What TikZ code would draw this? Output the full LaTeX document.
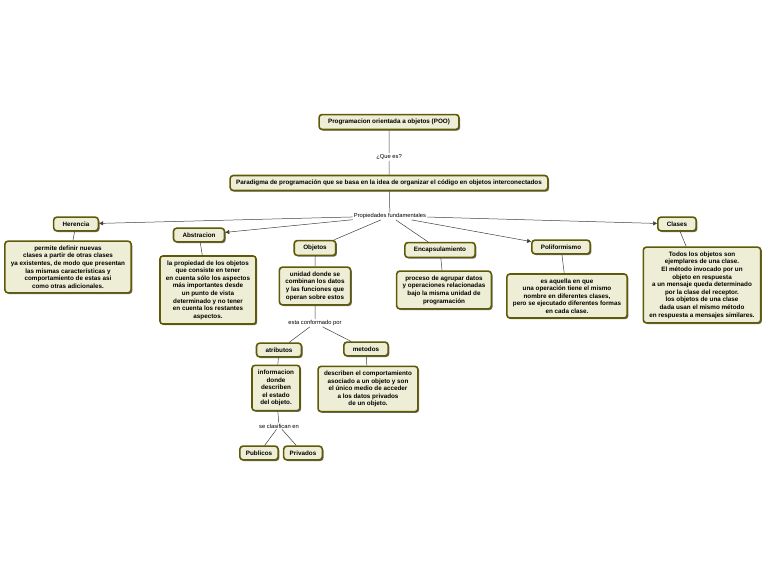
\documentclass[tikz,border=0pt]{standalone}
\usepackage{fontspec}
\setmainfont{Liberation Sans}
\usetikzlibrary{arrows.meta,shadows}
\definecolor{bfill}{HTML}{EEEED6}
\definecolor{bdraw}{HTML}{5E5A08}
\tikzset{
 box/.style={draw=bdraw,line width=1.6pt,fill=bfill,rounded corners=3pt,align=center,font=\fontsize{6.3}{7.6}\selectfont\bfseries,inner xsep=6pt,inner ysep=4.5pt,drop shadow={shadow xshift=1.2pt,shadow yshift=-1.2pt,fill=black!70,opacity=.8}},
 hd/.style={box,inner xsep=9pt},
 lbl/.style={font=\fontsize{5.8}{7}\selectfont,inner sep=1pt},
 ln/.style={draw=black!75,line width=0.5pt},
 arr/.style={ln,-{Triangle[length=4pt,width=4pt]}}
}
\begin{document}
\begin{tikzpicture}[x=1pt,y=-1pt]
\useasboundingbox[fill=white] (0,0) rectangle (768,578);
\node[hd] (t) at (389,122) {Programacion orientada a objetos (POO)};
\node[lbl] (q) at (389,157) {¿Que es?};
\node[box] (p) at (389,183) {Paradigma de programación que se basa en la idea de organizar el código en objetos interconectados};
\node[lbl] (pf) at (390,216) {Propiedades fundamentales};
\node[hd] (h) at (76,224) {Herencia};
\node[box] (hd) at (68,267) {permite definir nuevas\\clases a partir de otras clases\\ya existentes, de modo que presentan\\las mismas características y\\comportamiento de estas asi\\como otras adicionales.};
\node[hd] (a) at (199,235) {Abstracion};
\node[box] (ad) at (208,290) {la propiedad de los objetos\\que consiste en tener\\en cuenta sólo los aspectos\\más importantes desde\\un punto de vista\\determinado y no tener\\en cuenta los restantes\\aspectos.};
\node[hd] (o) at (315,248) {Objetos};
\node[box] (od) at (315,286) {unidad donde se\\combinan los datos\\y las funciones que\\operan sobre estos};
\node[lbl] (ec) at (315,323) {esta conformado por};
\node[hd] (at) at (279,350) {atributos};
\node[box] (atd) at (276,388) {informacion\\donde\\describen\\el estado\\del objeto.};
\node[hd] (m) at (366,349) {metodos};
\node[box] (md) at (368,389) {describen el comportamiento\\asociado a un objeto y son\\el único medio de acceder\\a los datos privados\\de un objeto.};
\node[lbl] (sc) at (279,426) {se clasifican en};
\node[box] (pu) at (259,453) {Publicos};
\node[box] (pr) at (303,453) {Privados};
\node[hd] (e) at (440,250) {Encapsulamiento};
\node[box] (ed) at (444,290) {proceso de agrupar datos\\y operaciones relacionadas\\bajo la misma unidad de\\programación};
\node[hd] (po) at (561,247) {Poliformismo};
\node[box] (pod) at (567,296) {es aquella en que\\una operación tiene el mismo\\nombre en diferentes clases,\\pero se ejecutado diferentes formas\\en cada clase.};
\node[hd] (c) at (677,224) {Clases};
\node[box] (cd) at (702,285) {Todos los objetos son\\ejemplares de una clase.\\El método invocado por un\\objeto en respuesta\\a un mensaje queda determinado\\por la clase del receptor.\\los objetos de una clase\\dada usan el mismo método\\en respuesta a mensajes similares.};
\draw[ln] (t)--(q) (q)--(p) (p)--(pf);
\draw[arr] (pf)--(h);
\draw[arr] (pf)--(a);
\draw[ln] (pf)--(o);
\draw[ln] (pf)--(e);
\draw[arr] (pf)--(po);
\draw[arr] (pf)--(c);
\draw[ln] (h)--(hd) (a)--(ad) (o)--(od) (e)--(ed) (po)--(pod) (c)--(cd);
\draw[ln] (od)--(ec) (ec)--(at) (ec)--(m) (at)--(atd) (m)--(md) (atd)--(sc) (sc)--(pu) (sc)--(pr);
\end{tikzpicture}
\end{document}
